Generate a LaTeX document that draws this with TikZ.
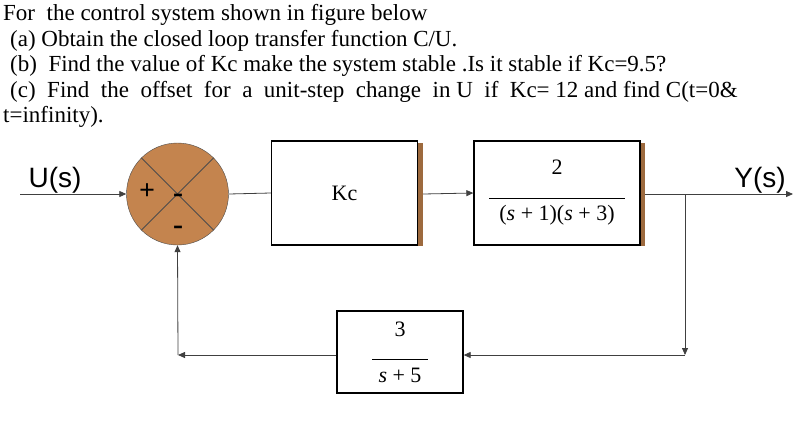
\documentclass[tikz,border=0pt]{standalone}
\usepackage{fontspec}
\setmainfont{Liberation Serif}
\newfontfamily\arialf{Liberation Sans}
\usetikzlibrary{arrows.meta}
\definecolor{sumbrown}{HTML}{C4844E}
\newcommand{\sv}{\textit{s}}
\tikzset{
  blk/.style={draw,line width=1.3pt,fill=white,minimum width=146pt,minimum height=104pt,inner sep=0pt},
  conn/.style={draw=black!75,line width=0.8pt},
  arr/.style={conn,-{Triangle[length=7pt,width=6pt]}},
  txt/.style={anchor=west,inner sep=0pt,font=\fontsize{23}{26}\selectfont},
  lbl/.style={font=\fontsize{22}{26}\selectfont,align=center},
}
\begin{document}
\begin{tikzpicture}[x=1pt,y=-1pt]
\useasboundingbox (0,0) rectangle (803,432);
% text
\node[txt] (t1) at (3,15) {For\ \ the control system shown in figure below};
\node[txt] (t2) at (10,41) {(a) Obtain the closed loop transfer function C/U.};
\node[txt] (t3) at (10,66) {(b)\ \ Find the value of Kc make the system stable .Is it stable if Kc=9.5?};
\node[txt] (t4) at (10,92) {(c)\ \ Find\ \ the\ \ offset\ \ for\ \ a\ \ unit-step\ \ change\ \ in U\ \ if\ \ Kc= 12 and find C(t=0\&};
\node[txt] (t5) at (3,117) {t=infinity).};
% summing junction
\node[circle,draw=black!70,fill=sumbrown,minimum size=102pt,inner sep=0pt] (sum) at (177.5,194) {};
\draw[black!70,line width=0.9pt] (sum.north east) -- (sum.south west) (sum.north west) -- (sum.south east);
\node[font=\bfseries\fontsize{28}{28}\selectfont] (plus) at (147,192) {+};
\node[font=\bfseries\fontsize{30}{30}\selectfont] (m1) at (178,198) {-};
\node[font=\bfseries\fontsize{30}{30}\selectfont] (m2) at (178,230) {-};
% blocks
\fill[sumbrown!80!black] (418,143) rectangle (423,246);
\node[blk] (kc) at (344.5,193) {\fontsize{22}{26}\selectfont Kc};
\fill[sumbrown!80!black] (640,143) rectangle (645,246);
\node[blk,minimum width=166pt] (g) at (557,193) {};
\node[lbl] (gt) at (g.center) {2\\[-2pt]\rule{136pt}{0.8pt}\\[-4pt](\sv\ + 1)(\sv\ + 3)};
\node[blk,minimum width=126pt,minimum height=82pt] (h) at (400,352) {};
\node[lbl] (ht) at (h.center) {3\\[-2pt]\rule{56pt}{0.8pt}\\[-4pt]\sv\ + 5};
% labels
\node[font=\arialf\fontsize{28}{30}\selectfont] (u) at (55,180) {U(s)};
\node[font=\arialf\fontsize{28}{30}\selectfont] (y) at (760,180) {Y(s)};
\coordinate (in) at (20,194);
\coordinate (br) at (685,194);
\coordinate (out) at (793,194);
\coordinate (bd) at (685,355);
\coordinate (bl) at (178,355);
% connectors
\draw[arr] (in) -- (sum.west);
\draw[conn] (sum.east) -- (kc.west);
\draw[arr] (423,194) -- (g.west);
\draw[conn] (645,194) -- (br);
\draw[arr] (br) -- (out);
\draw[arr] (br) -- (bd);
\draw[arr] (bd) -- (h.east |- bd);
\draw[arr] (h.west |- bl) -- (bl);
\draw[arr] (bl) -- (sum.south);
\end{tikzpicture}
\end{document}
